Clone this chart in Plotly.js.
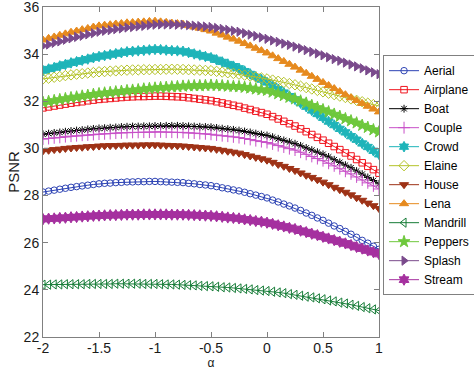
<!DOCTYPE html>
<html>
<head>
<meta charset="utf-8">
<script src="https://cdn.plot.ly/plotly-3.0.1.min.js"></script>
<style>html,body{margin:0;padding:0;background:#fff;}#chart{width:474px;height:370px;}</style>
</head>
<body>
<div id="chart"></div>
<script>
const alpha = [-2,-1.95,-1.9,-1.85,-1.8,-1.75,-1.7,-1.65,-1.6,-1.55,-1.5,-1.45,-1.4,-1.35,-1.3,-1.25,-1.2,-1.15,-1.1,-1.05,-1,-0.95,-0.9,-0.85,-0.8,-0.75,-0.7,-0.65,-0.6,-0.55,-0.5,-0.45,-0.4,-0.35,-0.3,-0.25,-0.2,-0.15,-0.1,-0.05,0,0.05,0.1,0.15,0.2,0.25,0.3,0.35,0.4,0.45,0.5,0.55,0.6,0.65,0.7,0.75,0.8,0.85,0.9,0.95,1];

const aerial = [28.15,28.19,28.23,28.27,28.31,28.35,28.38,28.41,28.44,28.47,28.50,28.52,28.53,28.55,28.56,28.58,28.58,28.59,28.59,28.60,28.60,28.59,28.58,28.57,28.56,28.55,28.52,28.50,28.47,28.45,28.42,28.38,28.33,28.29,28.24,28.20,28.14,28.08,28.02,27.96,27.90,27.81,27.73,27.64,27.56,27.47,27.37,27.26,27.16,27.05,26.95,26.83,26.71,26.60,26.48,26.36,26.23,26.10,25.98,25.85,25.72];
const airplane = [31.72,31.76,31.80,31.84,31.88,31.92,31.95,31.98,32.02,32.05,32.08,32.10,32.12,32.14,32.16,32.18,32.19,32.20,32.20,32.21,32.22,32.22,32.21,32.20,32.19,32.18,32.15,32.12,32.09,32.06,32.03,31.98,31.93,31.88,31.83,31.78,31.71,31.65,31.58,31.52,31.45,31.35,31.25,31.15,31.05,30.95,30.83,30.71,30.59,30.47,30.35,30.22,30.08,29.95,29.81,29.68,29.53,29.39,29.24,29.10,28.95];
const boat = [30.60,30.63,30.66,30.68,30.71,30.74,30.76,30.78,30.81,30.83,30.85,30.86,30.88,30.89,30.91,30.92,30.93,30.93,30.94,30.94,30.95,30.95,30.96,30.96,30.96,30.95,30.94,30.93,30.92,30.91,30.90,30.87,30.84,30.82,30.79,30.76,30.72,30.68,30.63,30.59,30.55,30.48,30.41,30.34,30.27,30.20,30.11,30.02,29.93,29.84,29.75,29.64,29.52,29.41,29.29,29.18,29.04,28.91,28.77,28.64,28.50];
const couple = [30.40,30.42,30.45,30.47,30.50,30.52,30.54,30.56,30.57,30.59,30.61,30.62,30.63,30.65,30.66,30.67,30.68,30.68,30.69,30.69,30.70,30.70,30.69,30.69,30.68,30.68,30.66,30.65,30.63,30.62,30.60,30.57,30.54,30.52,30.49,30.46,30.42,30.38,30.33,30.29,30.25,30.19,30.12,30.06,29.99,29.93,29.84,29.75,29.66,29.57,29.48,29.37,29.26,29.14,29.03,28.92,28.79,28.66,28.54,28.41,28.28];
const crowd = [33.30,33.37,33.43,33.50,33.56,33.63,33.68,33.74,33.79,33.85,33.90,33.94,33.98,34.02,34.06,34.10,34.12,34.14,34.16,34.18,34.20,34.19,34.17,34.15,34.14,34.12,34.07,34.01,33.96,33.90,33.85,33.76,33.67,33.58,33.49,33.40,33.28,33.16,33.04,32.92,32.80,32.66,32.51,32.37,32.22,32.08,31.92,31.77,31.61,31.46,31.30,31.14,30.99,30.83,30.68,30.52,30.37,30.21,30.06,29.90,29.75];
const elaine = [32.95,32.98,33.02,33.05,33.09,33.12,33.15,33.17,33.20,33.22,33.25,33.26,33.28,33.29,33.31,33.32,33.33,33.33,33.34,33.34,33.35,33.35,33.36,33.36,33.36,33.35,33.34,33.33,33.32,33.31,33.30,33.27,33.24,33.21,33.18,33.15,33.11,33.07,33.03,32.99,32.95,32.90,32.85,32.80,32.75,32.70,32.64,32.58,32.52,32.46,32.40,32.34,32.28,32.22,32.16,32.10,32.04,31.98,31.92,31.86,31.80];
const house = [29.90,29.92,29.95,29.97,30.00,30.02,30.04,30.05,30.07,30.08,30.10,30.11,30.12,30.12,30.13,30.14,30.14,30.14,30.15,30.15,30.15,30.14,30.13,30.12,30.11,30.10,30.08,30.06,30.04,30.02,30.00,29.96,29.92,29.88,29.84,29.80,29.74,29.68,29.62,29.56,29.50,29.41,29.32,29.24,29.15,29.06,28.96,28.86,28.77,28.67,28.57,28.46,28.35,28.25,28.14,28.03,27.91,27.80,27.68,27.57,27.45];
const lena = [34.60,34.67,34.73,34.80,34.86,34.93,34.98,35.04,35.09,35.15,35.20,35.23,35.25,35.28,35.30,35.33,35.34,35.36,35.37,35.39,35.40,35.37,35.35,35.32,35.30,35.27,35.21,35.15,35.10,35.04,34.98,34.89,34.81,34.72,34.64,34.55,34.45,34.35,34.25,34.15,34.05,33.93,33.81,33.69,33.57,33.45,33.32,33.19,33.06,32.93,32.80,32.67,32.54,32.41,32.28,32.15,32.03,31.91,31.79,31.67,31.55];
const mandrill = [24.22,24.22,24.23,24.23,24.24,24.24,24.24,24.24,24.25,24.25,24.25,24.25,24.25,24.26,24.26,24.26,24.26,24.26,24.25,24.25,24.25,24.24,24.23,24.23,24.22,24.21,24.20,24.19,24.17,24.16,24.15,24.13,24.11,24.10,24.08,24.06,24.04,24.02,23.99,23.97,23.95,23.92,23.89,23.86,23.82,23.79,23.75,23.71,23.68,23.64,23.60,23.55,23.51,23.46,23.42,23.37,23.32,23.27,23.22,23.17,23.12];
const peppers = [31.95,31.99,32.03,32.07,32.11,32.15,32.18,32.22,32.25,32.29,32.32,32.35,32.37,32.40,32.42,32.45,32.47,32.49,32.52,32.54,32.56,32.58,32.59,32.61,32.62,32.64,32.65,32.66,32.66,32.67,32.68,32.67,32.66,32.64,32.63,32.62,32.59,32.56,32.52,32.49,32.46,32.39,32.32,32.24,32.17,32.10,32.01,31.92,31.82,31.73,31.64,31.55,31.45,31.36,31.26,31.17,31.08,30.98,30.89,30.79,30.70];
const splash = [34.35,34.41,34.48,34.54,34.61,34.67,34.73,34.78,34.84,34.89,34.95,34.99,35.02,35.06,35.09,35.13,35.15,35.18,35.20,35.23,35.25,35.26,35.26,35.26,35.25,35.25,35.23,35.21,35.19,35.17,35.15,35.11,35.07,35.03,34.99,34.95,34.89,34.83,34.77,34.71,34.65,34.58,34.52,34.45,34.39,34.32,34.25,34.17,34.10,34.03,33.95,33.87,33.79,33.72,33.64,33.56,33.48,33.40,33.31,33.23,33.15];
const stream = [27.00,27.02,27.03,27.05,27.06,27.08,27.09,27.11,27.12,27.14,27.15,27.16,27.17,27.17,27.18,27.19,27.19,27.19,27.20,27.20,27.20,27.20,27.20,27.19,27.19,27.19,27.18,27.17,27.16,27.15,27.14,27.12,27.10,27.07,27.05,27.03,26.99,26.96,26.92,26.89,26.85,26.80,26.74,26.69,26.63,26.58,26.51,26.45,26.38,26.32,26.25,26.18,26.11,26.04,25.97,25.90,25.82,25.75,25.67,25.60,25.52];

const names = ["Aerial","Airplane","Boat","Couple","Crowd","Elaine","House","Lena","Mandrill","Peppers","Splash","Stream"];
const seriesValues = [aerial, airplane, boat, couple, crowd, elaine, house, lena, mandrill, peppers, splash, stream];
const xTickVals = [-2,-1.5,-1,-0.5,0,0.5,1];
const xTickText = ["-2","-1.5","-1","-0.5","0","0.5","1"];
const yTickVals = [22,24,26,28,30,32,34,36];

const styles = [
  {color:"#2d43b4", symbol:"circle-open", size:6.5},
  {color:"#f0141e", symbol:"square-open", size:6.5},
  {color:"#000000", symbol:"asterisk-open", size:6.5},
  {color:"#c850c8", symbol:"cross-thin-open", size:8.5},
  {color:"#1eb4b9", symbol:"hexagram", size:8},
  {color:"#b4c328", symbol:"diamond-open", size:8},
  {color:"#9e3216", symbol:"triangle-down", size:8},
  {color:"#e68a1e", symbol:"triangle-up", size:8},
  {color:"#167c37", symbol:"triangle-left-open", size:8},
  {color:"#6ec83c", symbol:"star", size:9},
  {color:"#7a4a8c", symbol:"triangle-right", size:8},
  {color:"#a5309f", symbol:"hexagram", size:8.5}
];

const traces = names.map((n, i) => ({
  type: "scatter",
  mode: "lines+markers",
  name: n,
  x: alpha,
  y: seriesValues[i],
  line: {color: styles[i].color, width: 1},
  marker: {symbol: styles[i].symbol, size: styles[i].size, color: styles[i].color,
           line: {color: styles[i].color, width: 1}}
}));

const axisCommon = {
  showgrid: false, zeroline: false, showline: true, linecolor: "#808080", linewidth: 1,
  mirror: "ticks", ticks: "inside", ticklen: 5, tickcolor: "#808080",
  ticklabeloverflow: "allow",
  tickfont: {family: "Liberation Sans, Arial, sans-serif", size: 14, color: "#1a1a1a"}
};

const layout = {
  width: 474, height: 370,
  margin: {l: 43, r: 95, t: 7, b: 33, autoexpand: false},
  paper_bgcolor: "#ffffff", plot_bgcolor: "#ffffff",
  font: {family: "Liberation Sans, Arial, sans-serif", size: 14, color: "#1a1a1a"},
  xaxis: Object.assign({}, axisCommon, {
    range: [-2, 1], tickmode: "array", tickvals: xTickVals, ticktext: xTickText,
    ticklabelstandoff: -2,
    title: {text: "α", font: {size: 12}, standoff: 8}, automargin: false
  }),
  yaxis: Object.assign({}, axisCommon, {
    range: [22, 36], tickmode: "array", tickvals: yTickVals,
    title: {text: "PSNR", font: {size: 15}, standoff: 0}, automargin: false
  }),
  showlegend: true,
  legend: {
    x: 1.012, xanchor: "left", y: 0.854, yanchor: "top",
    bgcolor: "#ffffff", bordercolor: "#808080", borderwidth: 1,
    font: {family: "Liberation Sans, Arial, sans-serif", size: 12, color: "#000"},
    tracegroupgap: 0, itemwidth: 30
  }
};

Plotly.newPlot("chart", traces, layout, {displayModeBar: false, staticPlot: true});
</script>
</body>
</html>
